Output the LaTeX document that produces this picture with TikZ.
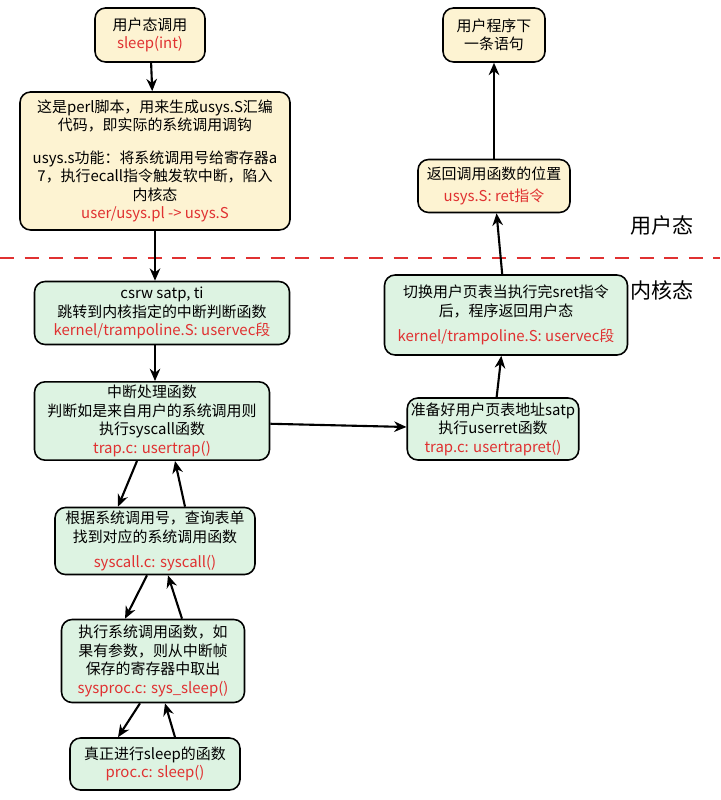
\documentclass[tikz,border=0pt]{standalone}
\usepackage{fontspec}
\setmainfont{Noto Sans CJK SC}
\usetikzlibrary{arrows.meta}
\definecolor{ufill}{HTML}{FDF3D2}
\definecolor{kfill}{HTML}{DDF3E2}
\definecolor{rtxt}{HTML}{E03131}
\begin{document}
\begin{tikzpicture}[x=0.02cm,y=-0.02cm,
  box/.style={draw=black,line width=0.9pt,rounded corners=6pt,align=center,
    font=\fontsize{8.5}{10.5}\selectfont,inner sep=2pt},
  ubox/.style={box,fill=ufill},
  kbox/.style={box,fill=kfill},
  arr/.style={-{Stealth[length=7pt,width=6pt]},line width=1.2pt}]
\useasboundingbox (0,0) rectangle (720,800);
% user side
\node[ubox,minimum width=110*0.02cm,minimum height=54*0.02cm] (a) at (150,35) {用户态调用\\\textcolor{rtxt}{sleep(int)}};
\node[ubox,minimum width=270*0.02cm,minimum height=138*0.02cm] (b) at (155,161)
  {这是perl脚本，用来生成usys.S汇编\\代码，即实际的系统调用调钩\\[8pt]
   usys.s功能：将系统调用号给寄存器a\\7，执行ecall指令触发软中断，陷入\\内核态\\\textcolor{rtxt}{user/usys.pl -> usys.S}};
% kernel side left
\node[kbox,minimum width=255*0.02cm,minimum height=63*0.02cm] (c) at (162,313)
  {csrw satp, ti\\跳转到内核指定的中断判断函数\\\textcolor{rtxt}{kernel/trampoline.S: uservec段}};
\node[kbox,minimum width=235*0.02cm,minimum height=77*0.02cm] (d) at (152,421)
  {中断处理函数\\判断如是来自用户的系统调用则\\执行syscall函数\\\textcolor{rtxt}{trap.c: usertrap()}};
\node[kbox,minimum width=200*0.02cm,minimum height=62*0.02cm] (e) at (155,541)
  {根据系统调用号，查询表单\\找到对应的系统调用函数\\[4pt]\textcolor{rtxt}{syscall.c: syscall()}};
\node[kbox,minimum width=183*0.02cm,minimum height=83*0.02cm] (f) at (153,661)
  {执行系统调用函数，如\\果有参数，则从中断帧\\保存的寄存器中取出\\\textcolor{rtxt}{sysproc.c: sys\_sleep()}};
\node[kbox,minimum width=170*0.02cm,minimum height=52*0.02cm] (g) at (155,764)
  {真正进行sleep的函数\\\textcolor{rtxt}{proc.c: sleep()}};
% right column
\node[ubox,minimum width=102*0.02cm,minimum height=54*0.02cm] (h) at (494,35) {用户程序下\\一条语句};
\node[ubox,minimum width=152*0.02cm,minimum height=53*0.02cm] (i) at (494,186)
  {返回调用函数的位置\\[2pt]\textcolor{rtxt}{usys.S: ret指令}};
\node[kbox,minimum width=243*0.02cm,minimum height=80*0.02cm] (j) at (506,315)
  {切换用户页表当执行完sret指令\\后，程序返回用户态\\[4pt]\textcolor{rtxt}{kernel/trampoline.S: uservec段}};
\node[kbox,minimum width=163*0.02cm,minimum height=62*0.02cm] (k) at (493,429)
  {准备好用户页表地址satp\\执行userret函数\\\textcolor{rtxt}{trap.c: usertrapret()}};
% divider
\draw[rtxt,line width=1.2pt,dash pattern=on 8pt off 6pt] (0,258) -- (720,258);
\node[font=\fontsize{12}{14}\selectfont] (lu) at (662,225) {用户态};
\node[font=\fontsize{12}{14}\selectfont] (lk) at (662,290) {内核态};
% arrows
\draw[arr] (a) -- (b);
\draw[arr] (b.south -| 155,0) -- (c.north -| 155,0);
\draw[arr] (c.south -| 155,0) -- (d.north -| 155,0);
\draw[arr] (d) -- (k);
\draw[arr] (k) -- (j);
\draw[arr] (j) -- (i);
\draw[arr] (i) -- (h);
\draw[arr] (d.south -| 137,0) -- (e.north -| 118,0);
\draw[arr] (e.north -| 185,0) -- (d.south -| 175,0);
\draw[arr] (e.south -| 147,0) -- (f.north -| 125,0);
\draw[arr] (f.north -| 182,0) -- (e.south -| 168,0);
\draw[arr] (f.south -| 140,0) -- (g.north -| 118,0);
\draw[arr] (g.north -| 175,0) -- (f.south -| 165,0);
\end{tikzpicture}
\end{document}
